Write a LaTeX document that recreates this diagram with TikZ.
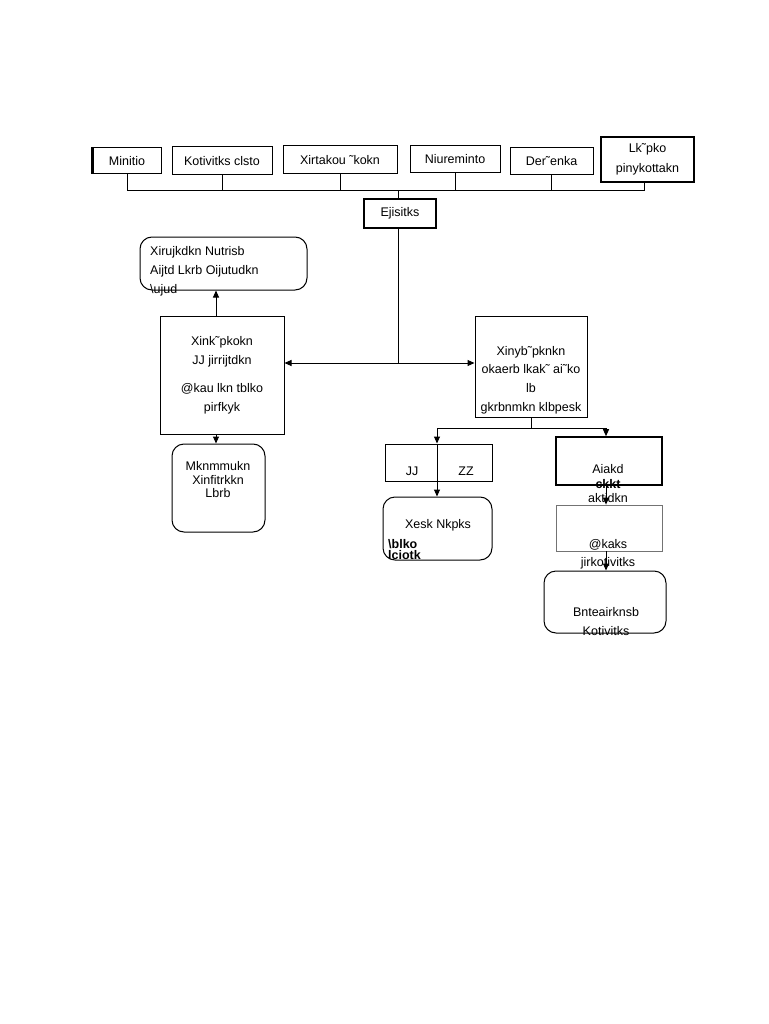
\documentclass[tikz,border=0pt]{standalone}
\usepackage{fontspec}
\setmainfont{Liberation Sans}
\usetikzlibrary{arrows.meta}
\begin{document}
\begin{tikzpicture}[x=1pt,y=-1pt,
 bx/.style={draw,line width=1pt,inner sep=0pt,font=\fontsize{12.5}{20}\selectfont,align=center},
 rbx/.style={bx,rounded corners=12pt},
 txt/.style={inner sep=0pt,font=\fontsize{12.5}{14}\selectfont,align=center},
 ln/.style={line width=1pt},
 arr/.style={line width=1pt,-{Triangle[length=7pt,width=6pt]}}]
\useasboundingbox[fill=white] (0,0) rectangle (768,1024);
% top row
\node[bx,minimum width=68pt,minimum height=26pt] (m1) at (127,161) {Minitio};
\draw[line width=2.5pt] (m1.north west) -- (m1.south west);
\node[bx,minimum width=100pt,minimum height=28pt] (m2) at (222,161) {Kotivitks clsto};
\node[bx,minimum width=114pt,minimum height=28pt] (m3) at (340,160) {Xirtakou ˜kokn};
\node[bx,minimum width=90pt,minimum height=27pt] (m4) at (455,159.5) {Niureminto};
\node[bx,minimum width=83pt,minimum height=27pt] (m5) at (551.5,161.5) {Der˜enka};
\node[bx,line width=1.5pt,minimum width=93pt,minimum height=45pt] (m6) at (647.5,159.5) {Lk˜pko\\pinykottakn};
% bus
\coordinate (busL) at (127,191);
\coordinate (busR) at (644,191);
\draw[ln] (m1.south) -- (busL) -- (busR) -- (busR |- m6.south);
\draw[ln] (m2.south) -- (m2.south |- busL);
\draw[ln] (m3.south) -- (m3.south |- busL);
\draw[ln] (m4.south) -- (m4.south |- busL);
\draw[ln] (m5.south) -- (m5.south |- busL);
% Ejisitks
\node[bx,line width=1.3pt,minimum width=72pt,minimum height=29pt] (ej) at (400,213.5) {Ejisitks};
\draw[ln] (ej.north -| 398,0) -- (398,191);
\coordinate (hub) at (398,363);
\draw[ln] (ej.south -| hub) -- (hub);
% left column
\node[rbx,minimum width=167pt,minimum height=53pt] (r1) at (223.5,263.5) {};
\node[txt,anchor=north west,align=left,font=\fontsize{12.5}{19}\selectfont] (r1t) at (150,246) {Xirujkdkn Nutrisb\\Aijtd Lkrb Oijutudkn\\\textbackslash ujud};
\node[bx,minimum width=124pt,minimum height=118pt,font=\fontsize{12.5}{19}\selectfont] (c1) at (222,375) {Xink˜pkokn\\JJ jirrijtdkn\\[9pt]@kau lkn tblko\\pirfkyk};
\coordinate (a1) at ([xshift=-6pt]c1.north);
\draw[arr] (a1) -- (a1 |- r1.south);
\draw[arr] (hub) -- (c1.east |- hub);
\node[rbx,minimum width=93pt,minimum height=88pt] (r2) at (218.5,488) {};
\node[txt,font=\fontsize{12.5}{13.5}\selectfont] (r2t) at (218,480) {Mknmmukn\\Xinfitrkkn\\Lbrb};
\coordinate (a2) at ([xshift=-6pt]c1.south);
\draw[arr] (a2) -- (a2 |- r2.north);
% right center
\node[bx,minimum width=112pt,minimum height=101pt] (c2) at (531,366.5) {};
\node[txt,font=\fontsize{12.5}{18.7}\selectfont] (c2t) at (531,380) {Xinyb˜pknkn\\okaerb lkak˜ ai˜ko\\lb\\gkrbnmkn klbpesk};
\draw[arr] (hub) -- (c2.west |- hub);
\coordinate (sp) at (531,428);
\coordinate (spL) at (437,428);
\coordinate (spR) at (606,428);
\draw[ln] (c2.south) -- (sp);
\draw[ln] (spL) -- (spR);
% JJ ZZ
\node[bx,minimum width=107pt,minimum height=37pt] (jj) at (438.5,462.5) {};
\node[txt] (jjt) at (412,471) {JJ};
\node[txt] (zzt) at (466,471) {ZZ};
\node[rbx,minimum width=109pt,minimum height=63pt] (r3) at (437.5,528.5) {};
\node[txt] (r3t) at (438,525) {Xesk Nkpks};
\node[txt,anchor=west,align=left,font=\fontsize{12.5}{11}\selectfont\bfseries] (r3u) at (388,550) {\textbackslash blko\\lciotk};
\draw[arr] (spL) -- (jj.north -| spL);
\draw[arr] (jj.north -| spL) -- (r3.north -| spL);
% right column
\node[bx,line width=1.6pt,minimum width=106pt,minimum height=48pt] (rb1) at (609,461) {};
\node[bx,draw=black!55,line width=0.8pt,minimum width=106pt,minimum height=46pt] (rb2) at (609,528) {};
\node[rbx,minimum width=122pt,minimum height=62pt] (rb3) at (605,602) {};
\draw[arr] (spR) -- (rb1.north -| spR);
\draw[arr] (rb1.south -| spR) -- (rb2.north -| spR);
\draw[arr] (rb2.south -| spR) -- (rb3.north -| spR);
\node[txt] (rb1a) at (608,469) {Aiakd};
\node[txt,font=\fontsize{12.5}{14}\selectfont\bfseries] (rb1b) at (608,484) {ckkt};
\node[txt] (rb1c) at (608,498) {aktidkn};
\node[txt] (rb2a) at (608,545) {@kaks};
\node[txt] (rb2b) at (608,563) {jirkotivitks};
\node[txt] (rb3a) at (606,612) {Bnteairknsb};
\node[txt] (rb3b) at (606,631) {Kotivitks};
\end{tikzpicture}
\end{document}
